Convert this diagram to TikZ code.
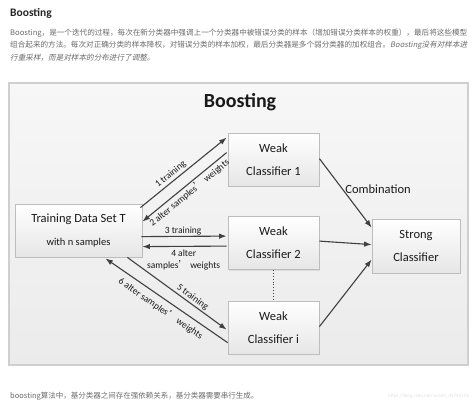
\documentclass[tikz,border=0pt]{standalone}
\usepackage{fontspec}
\setmainfont{Carlito}
\newfontfamily\cjk{Noto Sans CJK SC}
\newfontfamily\cjkit{Noto Sans CJK SC}[FakeSlant=0.2]
\usetikzlibrary{arrows.meta,shadows}
\XeTeXlinebreaklocale "zh"
\XeTeXlinebreakskip=0pt plus 1pt
\definecolor{txt}{HTML}{1A1A1A}
\definecolor{para}{HTML}{6A6A6A}
\definecolor{boxborder}{HTML}{BDBDBD}
\definecolor{boxbot}{HTML}{E6E6E6}
\definecolor{framebot}{HTML}{EBEBEB}
\definecolor{frametop}{HTML}{F7F7F7}
\definecolor{frameborder}{HTML}{CFCFCF}
\definecolor{arrc}{HTML}{404040}
\newcommand{\fwq}{{\cjk ’}}
\tikzset{
  box/.style={draw=boxborder, line width=0.8pt, top color=white, bottom color=boxbot,
    minimum width=91pt, minimum height=53pt, align=center, inner sep=0pt,
    font=\fontsize{12.5}{23}\selectfont, text=txt,
    drop shadow={shadow xshift=1.2pt, shadow yshift=-1.2pt, opacity=0.18}},
  arr/.style={draw=arrc, line width=1.1pt, -{Latex[length=7.5pt,width=5.5pt]}},
  lbl/.style={font=\fontsize{9.5}{12}\selectfont, text=txt, inner sep=2pt, align=center},
  framebox/.style={draw=frameborder, line width=1.4pt, top color=frametop, bottom color=framebot},
  paraline/.style={anchor=west, inner sep=0pt, text=para, font=\fontsize{7.6}{9}\cjk},
}
\begin{document}
\begin{tikzpicture}[x=1pt,y=1pt]
\useasboundingbox (0,0) rectangle (474,-405);
% header
\node[anchor=west, inner sep=0pt, text=black!85, font=\fontsize{11.5}{13}\selectfont\bfseries] (head) at (10,-13) {Boosting};
\node[paraline] (p1) at (10,-33) {\makebox[458pt][s]{Boosting，是一个迭代的过程，每次在新分类器中强调上一个分类器中被错误分类的样本（增加错误分类样本的权重），最后将这些模型}};
\node[paraline] (p2) at (10,-45.5) {\makebox[458pt][s]{组合起来的方法。每次对正确分类的样本降权，对错误分类的样本加权，最后分类器是多个弱分类器的加权组合。{\cjkit Boosting没有对样本进}}};
\node[paraline] (p3) at (10,-57.5) {\cjkit 行重采样，而是对样本的分布进行了调整。};
% frame
\node[framebox, minimum width=459pt, minimum height=282pt, inner sep=0pt] (frame) at (238.5,-224) {};
\node[font=\fontsize{20}{24}\selectfont\bfseries, text=txt] (title) at (240,-102) {Boosting};
% boxes
\node[box, minimum width=127pt] (tds) at (78.5,-230.5) {Training Data Set T\\{\fontsize{10.5}{12}\selectfont with n samples}};
\node[box] (wc1) at (273.5,-159.5) {Weak\\Classifier 1};
\node[box] (wc2) at (273.5,-243) {Weak\\Classifier 2};
\node[box] (wci) at (273.5,-327.5) {Weak\\Classifier i};
\node[box, minimum width=88pt, minimum height=54pt] (strong) at (416,-246) {Strong\\Classifier};
% arrows
\draw[arr] ([xshift=-2pt,yshift=-4pt]tds.north east) -- ([xshift=-1pt,yshift=-5pt]wc1.north west)
  node[lbl, sloped, pos=0.4, anchor=south] {1 training};
\draw[arr] ([xshift=-1pt,yshift=-20pt]wc1.north west) -- ([yshift=-18pt]tds.north east)
  node[lbl, sloped, pos=0.5, anchor=north] {2 alter samples\fwq\ weights};
\draw[arr] ([xshift=-1pt,yshift=-33pt]tds.north east) -- ([xshift=-1pt,yshift=-20pt]wc2.north west)
  node[lbl, pos=0.49, anchor=south, inner sep=1pt] {3 training};
\draw[arr] ([xshift=-1pt,yshift=-30pt]wc2.north west) -- ([yshift=-43pt]tds.north east)
  node[lbl, pos=0.51, anchor=north, inner sep=2.5pt] {4 alter\\samples\fwq\ weights};
\draw[arr] ([xshift=-15pt]tds.south east) -- ([xshift=-1pt,yshift=-29pt]wci.north west)
  node[lbl, sloped, pos=0.62, anchor=south, inner sep=1.5pt] {5 training};
\draw[arr] ([yshift=-42pt]wci.north west) -- ([xshift=-37pt,yshift=-1pt]tds.south east)
  node[lbl, sloped, pos=0.5, anchor=north, inner sep=4.5pt] {6 alter samples\fwq\ weights};
\draw[arr] ([yshift=-26pt]wc1.north east) -- ([yshift=-9pt]strong.north west)
  node[pos=0.45, anchor=west, inner sep=2pt, text=txt, font=\fontsize{12.5}{15}\selectfont] {Combination};
\draw[arr] ([yshift=-25pt]wc2.north east) -- ([yshift=-26pt]strong.north west);
\draw[arr] ([yshift=-26pt]wci.north east) -- ([yshift=-41pt]strong.north west);
\draw[arrc, line width=0.9pt, dotted] (wc2.south) -- (wci.north);
% footer
\node[paraline, font=\fontsize{7.5}{9}\cjk] (foot) at (10,-396) {boosting算法中，基分类器之间存在强依赖关系，基分类器需要串行生成。};
\node[anchor=east, inner sep=0pt, text=black!12, font=\fontsize{5}{6}\selectfont] (wm) at (469,-396) {https://blog.csdn.net/weixin\_41744192};
\end{tikzpicture}
\end{document}
